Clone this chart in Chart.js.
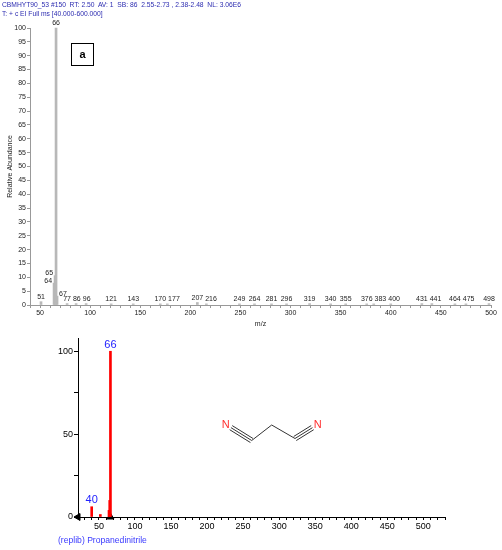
<!DOCTYPE html>
<html>
<head>
<meta charset="utf-8">
<script src="https://cdn.jsdelivr.net/npm/chart.js@4.4.0/dist/chart.umd.min.js"></script>
<style>
    body { margin: 0; background: #fff; font-family: 'Liberation Sans', Arial, sans-serif; }
    #page { position: relative; width: 502px; height: 550px; overflow: hidden; }
    .hdr { position: absolute; left: 2px; font-size: 8px; color: #2b2bb0; white-space: pre;
           transform: scaleX(0.84); transform-origin: left top; }
    #box { position: absolute; left: 71px; top: 43px; width: 21px; height: 21px; border: 1.5px solid #000;
           font-weight: bold; font-size: 11px; text-align: center; line-height: 21px; }
    #topWrap { position: absolute; left: 0; top: 0; width: 502px; height: 330px; }
    #botWrap { position: absolute; left: 0; top: 330px; width: 502px; height: 220px; }
    #caption { position: absolute; left: 58px; top: 535px; font-size: 8.6px; color: #3a3aff; }
</style>
</head>
<body>
<div id="page">
    <div id="topWrap"><canvas id="sampleChart"></canvas></div>
    <div id="botWrap"><canvas id="libraryChart"></canvas></div>
    <div class="hdr" style="top:0px">CBMHYT90_53 #150  RT: 2.50  AV: 1  SB: 86  2.55-2.73 , 2.38-2.48  NL: 3.06E6</div>
    <div class="hdr" style="top:9px">T: + c EI Full ms [40.000-600.000]</div>
    <div id="box">a</div>
    <div id="caption">(replib) Propanedinitrile</div>
</div>
<script>
// 樣品質譜 (上圖)
const sampleMz = [51, 64, 65, 66, 67, 77, 86, 96, 121, 143, 170, 177, 207, 216, 249, 264, 281, 296,
    319, 340, 355, 376, 383, 400, 431, 441, 464, 475, 498];
const sampleAbund = [1.2, 7.9, 10.6, 100, 3.2, 0.5, 0.5, 0.5, 0.4, 0.4, 0.4, 0.4, 0.9, 0.4, 0.4, 0.4, 0.4, 0.4,
    0.5, 0.4, 0.4, 0.4, 0.4, 0.4, 0.5, 0.5, 0.4, 0.4, 0.5];
const sampleXTicks = [50, 100, 150, 200, 250, 300, 350, 400, 450, 500];

// 資料庫質譜 (下圖)
const libMz = [40, 52, 64, 65, 66];
const libAbund = [6.2, 1.5, 4, 10, 100];
const libLabelMz = [40, 66];
const libMarkerMz = [66];
const libXTicks = [50, 100, 150, 200, 250, 300, 350, 400, 450, 500];
const libYTicks = [0, 50, 100];

const family = "'Liberation Sans', Arial, sans-serif";

// 在峰頂上標示 m/z
const peakLabels = {
    id: 'peakLabels',
    afterDatasetsDraw(chart, args, opts) {
        const ctx = chart.ctx;
        const ds = chart.data.datasets[0];
        const meta = chart.getDatasetMeta(0);
        const base = ds.data.reduce((a, b) => (b.y > a.y ? b : a));
        let lastRight = -Infinity;
        ctx.save();
        ctx.font = opts.font;
        ctx.fillStyle = opts.color;
        ctx.textBaseline = 'bottom';
        meta.data.forEach((bar, i) => {
            const pt = ds.data[i];
            if (opts.only && !opts.only.includes(pt.x)) return;
            const txt = String(pt.x);
            const w = ctx.measureText(txt).width;
            if (opts.sideways && pt !== base && Math.abs(pt.x - base.x) <= 2) {
                // 緊鄰基峰的峰，標籤放到旁邊
                const left = pt.x < base.x;
                ctx.textAlign = left ? 'right' : 'left';
                ctx.fillText(txt, bar.x + (left ? -2 : 2), bar.y + 1);
                return;
            }
            // 標籤重疊時往右推
            let cx = bar.x;
            if (pt !== base && cx - w / 2 < lastRight + 2) cx = lastRight + 2 + w / 2;
            ctx.textAlign = 'center';
            ctx.fillText(txt, cx, bar.y - opts.gap);
            if (pt !== base) lastRight = cx + w / 2;
        });
        ctx.restore();
    }
};

// 丙二腈結構式
const structure = {
    id: 'structure',
    afterDraw(chart) {
        const ctx = chart.ctx;
        const n1 = [226.7, 95], c1 = [251.7, 110.5], c2 = [271.7, 95], c3 = [295, 108.5], n2 = [316.7, 95];
        const line = (a, b) => { ctx.beginPath(); ctx.moveTo(a[0], a[1]); ctx.lineTo(b[0], b[1]); ctx.stroke(); };
        const triple = (a, b) => {
            const dx = b[0] - a[0], dy = b[1] - a[1], len = Math.hypot(dx, dy);
            const ux = dx / len, uy = dy / len, px = -uy * 2.4, py = ux * 2.4;
            const s = [a[0] + ux * 5, a[1] + uy * 5];
            for (let k = -1; k <= 1; k++) {
                line([s[0] + px * k, s[1] + py * k], [b[0] + px * k, b[1] + py * k]);
            }
        };
        ctx.save();
        ctx.strokeStyle = '#333';
        ctx.lineWidth = 1;
        triple(n1, c1);
        line(c1, c2);
        line(c2, c3);
        triple(n2, c3);
        ctx.fillStyle = '#ff3030';
        ctx.font = '11px ' + family;
        ctx.textAlign = 'center';
        ctx.textBaseline = 'middle';
        ctx.fillText('N', n1[0] - 1, n1[1]);
        ctx.fillText('N', n2[0] + 1, n2[1]);
        ctx.restore();
    }
};

new Chart(document.getElementById('sampleChart'), {
    type: 'bar',
    data: {
        datasets: [{
            data: sampleMz.map((m, i) => ({ x: m, y: sampleAbund[i] })),
            backgroundColor: '#b8b8b8',
            barThickness: 2,
            clip: false
        }]
    },
    options: {
        responsive: true,
        maintainAspectRatio: false,
        animation: false,
        layout: { padding: { top: 28, right: 11, left: 0, bottom: 0 } },
        plugins: {
            legend: { display: false },
            tooltip: { enabled: false },
            peakLabels: { font: '7px ' + family, color: '#222', gap: 1, sideways: true }
        },
        scales: {
            x: {
                type: 'linear', min: 40, max: 500, offset: false,
                afterFit: s => { s.height = 25; },
                grid: { drawOnChartArea: false, offset: false, tickLength: 3, color: '#999' },
                border: { color: '#999' },
                ticks: {
                    stepSize: 10, autoSkip: false, maxRotation: 0, minRotation: 0, includeBounds: false,
                    padding: 1, color: '#222', font: { size: 7, family: family },
                    callback: v => (sampleXTicks.includes(Math.round(v)) ? Math.round(v) : '')
                },
                title: { display: true, text: 'm/z', color: '#222', font: { size: 7, family: family }, padding: { top: 0, bottom: 2 } }
            },
            y: {
                min: 0, max: 100,
                afterFit: s => { s.width = 30; },
                grid: { drawOnChartArea: false, tickLength: 3, color: '#999' },
                border: { color: '#999' },
                ticks: { stepSize: 5, includeBounds: false, padding: 1, color: '#222', font: { size: 7, family: family } },
                title: { display: true, text: 'Relative Abundance', color: '#222', font: { size: 7, family: family }, padding: { top: 6, bottom: 0 } }
            }
        }
    },
    plugins: [peakLabels]
});

const libXMin = 21;

new Chart(document.getElementById('libraryChart'), {
    type: 'bar',
    data: {
        datasets: [{
            data: libMz.map((m, i) => ({ x: m, y: libAbund[i] })),
            backgroundColor: '#ff0000',
            barThickness: 2,
            clip: false
        }, {
            type: 'scatter',
            data: libMarkerMz.map(m => ({ x: m, y: 0 })),
            pointStyle: 'triangle',
            pointRadius: 4,
            backgroundColor: '#000',
            borderColor: '#000',
            clip: false
        }, {
            type: 'scatter',
            data: [{ x: libXMin, y: 0 }],
            pointStyle: 'triangle',
            rotation: -90,
            pointRadius: 4,
            backgroundColor: '#000',
            borderColor: '#000',
            clip: false
        }]
    },
    options: {
        responsive: true,
        maintainAspectRatio: false,
        animation: false,
        layout: { padding: { top: 8, right: 57, left: 0, bottom: 0 } },
        plugins: {
            legend: { display: false },
            tooltip: { enabled: false },
            peakLabels: { font: '11px ' + family, color: '#2222ff', gap: 1, only: libLabelMz }
        },
        scales: {
            x: {
                type: 'linear', min: libXMin, max: 530, offset: false,
                afterFit: s => { s.height = 33; },
                grid: { drawOnChartArea: false, offset: false, tickLength: 3, color: '#000' },
                border: { color: '#000' },
                ticks: {
                    stepSize: 10, autoSkip: false, maxRotation: 0, minRotation: 0, includeBounds: false,
                    padding: 1, color: '#000', font: { size: 9, family: family },
                    callback: v => (libXTicks.includes(Math.round(v)) ? Math.round(v) : '')
                }
            },
            y: {
                min: 0, max: 108,
                afterFit: s => { s.width = 78; },
                grid: { drawOnChartArea: false, tickLength: 4, color: '#000' },
                border: { color: '#000' },
                ticks: {
                    stepSize: 25, includeBounds: false, padding: 1, color: '#000', font: { size: 9, family: family },
                    callback: v => (libYTicks.includes(Math.round(v)) ? Math.round(v) : '')
                }
            }
        }
    },
    plugins: [peakLabels, structure]
});
</script>
</body>
</html>
